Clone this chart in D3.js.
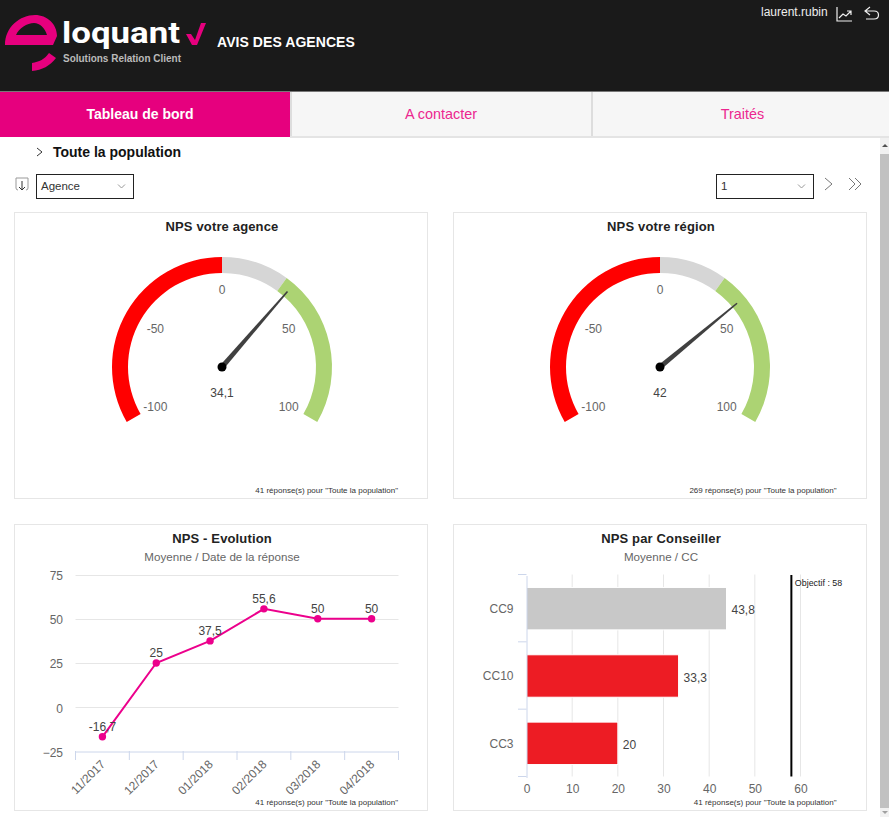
<!DOCTYPE html>
<html>
<head>
<meta charset="utf-8">
<script src="https://cdnjs.cloudflare.com/ajax/libs/d3/7.8.5/d3.min.js"></script>
<style>
  html, body { margin: 0; padding: 0; background: #fff; overflow: hidden; }
  svg { display: block; font-family: "Liberation Sans", Arial, sans-serif; }
  .grid line { stroke: #e6e6e6; }
  .axis-label { fill: #666; font-size: 12px; }
  .card { fill: #fff; stroke: #e6e6e6; }
  .title { font-size: 13px; font-weight: bold; fill: #222; text-anchor: middle; letter-spacing: 0.15px; }
  .subtitle { font-size: 11.6px; fill: #666; text-anchor: middle; }
  .foot { font-size: 8px; fill: #333; text-anchor: end; }
  .val { font-size: 12px; fill: #444; }
  .domain-line { stroke: #ccd6eb; fill: none; }
</style>
</head>
<body>
<svg id="page" width="889" height="817"></svg>
<script>
// gauges
const gaugeBands = [
  { from: -100, to: 0, color: "#ff0000" },
  { from: 0, to: 30, color: "#d6d6d6" },
  { from: 30, to: 100, color: "#acd373" }
];
const gaugeTicks = [-100, -50, 0, 50, 100];
const agencyScore = 34.1;
const regionScore = 42;

// NPS evolution
const months = ["11/2017", "12/2017", "01/2018", "02/2018", "03/2018", "04/2018"];
const npsByMonth = [-16.7, 25, 37.5, 55.6, 50, 50];
const npsTicks = [-25, 0, 25, 50, 75];

// NPS per advisor
const advisors = ["CC9", "CC10", "CC3"];
const npsByAdvisor = [43.8, 33.3, 20];
const advisorColors = ["#c8c8c8", "#ed1c24", "#ed1c24"];
const advisorTicks = [0, 10, 20, 30, 40, 50, 60];
const objective = 58;

const pink = "#e6007e";
const svg = d3.select("#page");
const fr = d => String(d).replace(".", ",");

// ---- header ----
svg.append("rect").attr("width", 889).attr("height", 91).attr("fill", "#1a1a1a");
svg.append("rect").attr("y", 91).attr("width", 889).attr("height", 1).attr("fill", "#777");

// logo: the big "e"
const logo = svg.append("g");
logo.append("path")
  .attr("fill", pink).attr("fill-rule", "evenodd")
  .attr("d", "M5 45 C5 27 20 15 35 15 C47 15 57 24 57 36 L53 45 Z M16 35 L47 35 C45 28 40 23 34 23 C27 23 19 28 16 35 Z");
logo.append("path")
  .attr("fill", pink)
  .attr("d", "M49 53 L56 58 C50 66 42 70 32 71 L32 63 C39 62 45 59 49 53 Z");
logo.append("text").attr("x", 62).attr("y", 43).attr("font-size", 29).attr("font-weight", "bold")
  .attr("fill", "#fff").attr("font-family", "Roboto")
  .attr("textLength", 118).attr("lengthAdjust", "spacingAndGlyphs").text("loquant");
logo.append("path").attr("fill", pink)
  .attr("d", "M186 34 L191 34 L195 40 L201 23 L206 23 L197 45 L192 45 Z");
logo.append("text").attr("x", 63).attr("y", 62).attr("font-size", 10.5).attr("font-weight", "bold")
  .attr("fill", "#bbb").attr("textLength", 118).attr("lengthAdjust", "spacingAndGlyphs").text("Solutions Relation Client");

svg.append("text").attr("x", 217).attr("y", 47).attr("font-size", 14).attr("font-weight", "bold")
  .attr("fill", "#fff").attr("letter-spacing", 0.06).text("AVIS DES AGENCES");
svg.append("text").attr("x", 761).attr("y", 16).attr("font-size", 12).attr("fill", "#eee").text("laurent.rubin");

// header icons
const iconStroke = { fill: "none", stroke: "#eee", "stroke-width": 1.2 };
const addPath = (d, st) => {
  const p = svg.append("path").attr("d", d);
  Object.entries(st).forEach(([k, v]) => p.attr(k, v));
  return p;
};
addPath("M837 7 L837 21 L852 21", iconStroke);
addPath("M839 18 L843 14 L846 16 L851 11 M847 11 L851 11 L851 15", iconStroke);
addPath("M870 7 L865 11 L870 15 M865 11 L874 11 C880 11 880 19 874 19 L866 19", iconStroke);

// ---- tabs ----
const tabs = [
  { x: 0, w: 290, c: 140, label: "Tableau de bord", on: true },
  { x: 290, w: 301, c: 441, label: "A contacter", on: false },
  { x: 591, w: 298, c: 742.5, label: "Traités", on: false }
];
tabs.forEach(t => {
  svg.append("rect").attr("x", t.x).attr("y", 92).attr("width", t.w).attr("height", 45)
    .attr("fill", t.on ? pink : "#f6f6f6");
  if (!t.on) {
    svg.append("rect").attr("x", t.x).attr("y", 92).attr("width", 2).attr("height", 45).attr("fill", "#ddd");
    svg.append("rect").attr("x", t.x).attr("y", 136).attr("width", t.w).attr("height", 2).attr("fill", "#e4e4e4");
  }
  svg.append("text").attr("x", t.c).attr("y", 119).attr("text-anchor", "middle")
    .attr("font-size", t.on ? 14 : 14.4).attr("font-weight", t.on ? "bold" : "normal")
    .attr("fill", t.on ? "#fff" : "#ec268f").text(t.label);
});

// ---- filter row ----
const thin = { fill: "none", stroke: "#333", "stroke-width": 1 };
addPath("M37 148 L42 152 L37 156", thin);
svg.append("text").attr("x", 53).attr("y", 157).attr("font-size", 14).attr("font-weight", "bold")
  .attr("fill", "#111").text("Toute la population");
addPath("M16 178 L16 188 Q16 190 18 190 M26 190 Q28 190 28 188 L28 178 L16 178", { fill: "none", stroke: "#999", "stroke-width": 1 });
addPath("M22 181 L22 190 M19 187 L22 190 L25 187", thin);

const selectBox = (x, w, label) => {
  svg.append("rect").attr("x", x + 0.5).attr("y", 174.5).attr("width", w).attr("height", 24)
    .attr("fill", "#fff").attr("stroke", "#222");
  svg.append("text").attr("x", x + 5).attr("y", 190).attr("font-size", 11.5).attr("fill", "#333").text(label);
  addPath(`M${x + w - 15} 184.5 L${x + w - 11.5} 188 L${x + w - 8} 184.5`, { fill: "none", stroke: "#999", "stroke-width": 1 });
};
selectBox(36, 97, "Agence");
selectBox(716, 97, "1");
const grayArrow = { fill: "none", stroke: "#777", "stroke-width": 1 };
addPath("M825 178 L832 184 L825 190", grayArrow);
addPath("M849 178 L855 184 L849 190 M855 178 L861 184 L855 190", grayArrow);

// ---- scrollbar ----
svg.append("rect").attr("x", 880).attr("y", 138).attr("width", 9).attr("height", 679).attr("fill", "#f1f1f1");
svg.append("rect").attr("x", 880).attr("y", 154).attr("width", 9).attr("height", 654).attr("fill", "#c1c1c1");
addPath("M882 147 L885 144 L888 147 Z", { fill: "#505050" });
addPath("M882 811 L885 814 L888 811 Z", { fill: "#a0a0a0" });

// ---- cards ----
function card(x, y, title, sub, foot, footX) {
  svg.append("rect").attr("class", "card").attr("x", x + 0.5).attr("y", y + 0.5).attr("width", 413).attr("height", 286);
  svg.append("text").attr("class", "title").attr("x", x + 208).attr("y", y + 19).text(title);
  if (sub) svg.append("text").attr("class", "subtitle").attr("x", x + 208).attr("y", y + 37).text(sub);
  svg.append("text").attr("class", "foot").attr("x", x + footX).attr("y", y + 281).text(foot);
}

// ---- gauge ----
function gauge(cx, cy, value) {
  const g = svg.append("g").attr("transform", `translate(${cx},${cy})`);
  const angle = d3.scaleLinear().domain([-100, 100]).range([-120, 120]);
  const arc = d3.arc().innerRadius(94).outerRadius(110);
  const rad = d => angle(d) * Math.PI / 180;
  g.selectAll("path.band").data(gaugeBands).join("path").attr("class", "band")
    .attr("fill", d => d.color)
    .attr("d", d => arc({ startAngle: rad(d.from), endAngle: rad(d.to) }));
  const labelR = 77;
  g.selectAll("text.tick").data(gaugeTicks).join("text").attr("class", "tick axis-label")
    .attr("text-anchor", "middle")
    .attr("x", d => labelR * Math.sin(rad(d)))
    .attr("y", d => -labelR * Math.cos(rad(d)) + (Math.abs(d) === 100 ? 5.5 : 4))
    .text(d => d);
  const a = rad(value);
  const tipX = 100 * Math.sin(a), tipY = -100 * Math.cos(a);
  const nx = Math.cos(a), ny = Math.sin(a);
  // needle is a long thin wedge, blunt at the tip
  g.append("path").attr("fill", "#404040")
    .attr("d", `M${-2.5 * nx} ${-2.5 * ny} L${tipX - 0.8 * nx} ${tipY - 0.8 * ny} L${tipX + 0.8 * nx} ${tipY + 0.8 * ny} L${2.5 * nx} ${2.5 * ny} Z`);
  g.append("circle").attr("r", 4.5).attr("fill", "#000");
  g.append("text").attr("class", "val").attr("y", 30).attr("text-anchor", "middle").attr("fill", "#444").text(fr(value));
}

card(14, 212, "NPS votre agence", null, '41 réponse(s) pour "Toute la population"', 384);
gauge(222, 367, agencyScore);
card(453, 212, "NPS votre région", null, '269 réponse(s) pour "Toute la population"', 383.5);
gauge(660, 367, regionScore);

// ---- line chart ----
card(14, 524, "NPS - Evolution", "Moyenne / Date de la réponse", '41 réponse(s) pour "Toute la population"', 384);
const xLine = d3.scaleBand().domain(months).range([75.5, 398.5]);
const yLine = d3.scaleLinear().domain([-25, 75]).range([751.5, 574.5]);

const lineGrid = svg.append("g").attr("class", "grid");
lineGrid.selectAll("line").data(npsTicks.slice(1)).join("line")
  .attr("x1", 75.5).attr("x2", 398.5)
  .attr("y1", d => Math.round(yLine(d)) + 0.5).attr("y2", d => Math.round(yLine(d)) + 0.5);

const yAxisLine = svg.append("g").attr("transform", "translate(63,1)")
  .call(d3.axisLeft(yLine).tickValues(npsTicks).tickSize(0).tickPadding(0));
yAxisLine.select(".domain").remove();
yAxisLine.selectAll("text").attr("class", "axis-label").style("font-family", "inherit");

const xAxisLine = svg.append("g").attr("transform", "translate(0,751.5)")
  .call(d3.axisBottom(xLine).tickSize(0));
xAxisLine.select(".domain").attr("stroke", "#ccd6eb");
xAxisLine.selectAll("text").attr("class", "axis-label").style("font-family", "inherit")
  .attr("text-anchor", "end")
  .attr("transform", "rotate(-45)")
  .attr("dx", "-7px").attr("dy", "0.75em");
svg.append("g").selectAll("line").data([...months.map(m => xLine(m)), 398.5]).join("line")
  .attr("class", "domain-line")
  .attr("x1", d => d).attr("x2", d => d).attr("y1", 751).attr("y2", 760);

const lineGen = d3.line().x((d, i) => xLine(months[i]) + xLine.bandwidth() / 2).y(d => yLine(d));
svg.append("path").datum(npsByMonth).attr("d", lineGen).attr("fill", "none").attr("stroke", "#ec008c").attr("stroke-width", 2);
svg.append("g").selectAll("circle").data(npsByMonth).join("circle")
  .attr("cx", (d, i) => xLine(months[i]) + xLine.bandwidth() / 2).attr("cy", d => yLine(d))
  .attr("r", 3.7).attr("fill", "#ec008c");
svg.append("g").selectAll("text").data(npsByMonth).join("text")
  .attr("class", "val").attr("text-anchor", "middle")
  .attr("x", (d, i) => xLine(months[i]) + xLine.bandwidth() / 2).attr("y", d => yLine(d) - 6)
  .text(fr);

// ---- bar chart ----
card(453, 524, "NPS par Conseiller", "Moyenne / CC", '41 réponse(s) pour "Toute la population"', 383.5);
const xBar = d3.scaleLinear().domain([0, 60]).range([526.5, 800.5]);
const yBar = d3.scaleBand().domain(advisors).range([575, 777]).paddingInner(0.37).paddingOuter(0.185);

const barGrid = svg.append("g").attr("class", "grid");
barGrid.selectAll("line").data(advisorTicks.slice(1)).join("line")
  .attr("x1", d => xBar(d)).attr("x2", d => xBar(d)).attr("y1", 574.5).attr("y2", 776.5);

svg.append("g").selectAll("rect").data(npsByAdvisor).join("rect")
  .attr("x", xBar(0)).attr("y", (d, i) => yBar(advisors[i]))
  .attr("width", d => xBar(d) - xBar(0)).attr("height", yBar.bandwidth())
  .attr("fill", (d, i) => advisorColors[i]).attr("stroke", "#fff");
svg.append("g").selectAll("text").data(npsByAdvisor).join("text")
  .attr("class", "val").attr("x", d => xBar(d) + 5)
  .attr("y", (d, i) => yBar(advisors[i]) + yBar.bandwidth() / 2 + 5.5)
  .text(fr);

const xAxisBar = svg.append("g").attr("transform", "translate(0,776.5)")
  .call(d3.axisBottom(xBar).tickValues(advisorTicks).tickSize(0).tickPadding(8));
xAxisBar.select(".domain").remove();
xAxisBar.selectAll("text").attr("class", "axis-label").style("font-family", "inherit");

const yAxisBar = svg.append("g").attr("transform", "translate(526.5,0.5)")
  .call(d3.axisLeft(yBar).tickSize(0).tickPadding(13));
yAxisBar.select(".domain").attr("stroke", "#ccd6eb");
yAxisBar.selectAll("text").attr("class", "axis-label").style("font-family", "inherit");
svg.append("g").selectAll("line").data([0, 1, 2, 3]).join("line")
  .attr("class", "domain-line")
  .attr("x1", 518).attr("x2", 526.5)
  .attr("y1", d => 574.5 + d * 202 / 3)
  .attr("y2", d => 574.5 + d * 202 / 3);

svg.append("line").attr("x1", xBar(objective)).attr("x2", xBar(objective)).attr("y1", 575).attr("y2", 776.5)
  .attr("stroke", "#000").attr("stroke-width", 2);
svg.append("text").attr("x", xBar(objective) + 3.5).attr("y", 586).attr("font-size", 8.9).attr("fill", "#222")
  .text("Objectif : " + objective);
</script>
</body>
</html>
